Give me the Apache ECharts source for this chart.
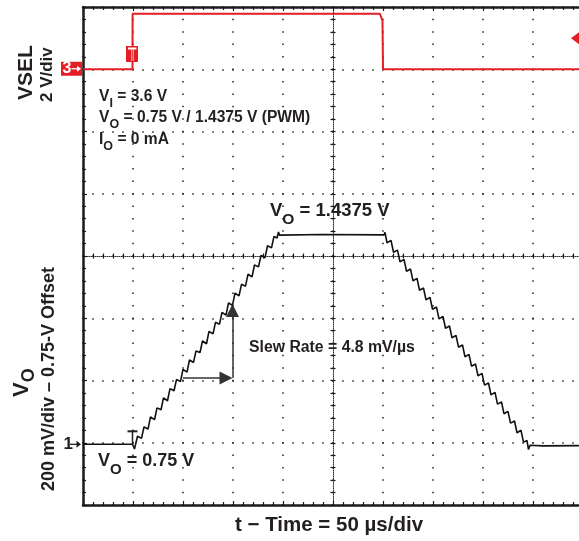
<!DOCTYPE html>
<html><head><meta charset="utf-8">
<script src="https://cdn.jsdelivr.net/npm/echarts@6/dist/echarts.min.js"></script>
<style>html,body{margin:0;padding:0;background:#fff}#c{width:579px;height:541px}</style>
</head><body><div id="c"></div>
<script>
// ---- data ----
const timeRangeUs = [0, 500];          // 10 div x 50 us/div
const timeDivUs = 50;
const divRange = [0, 8];               // 8 vertical divisions
const voRange = [0.55, 2.15];          // 200 mV/div, 0.75 V at 1 div
const vselRange = [-14, 2];            // 2 V/div, 0 V at 7 div
const vselTrace = [[0,0],[49.5,0],[49.6,1.78],[297,1.78],[298.5,1.74],[299.5,1.55],[300,0],[500,0]];
const voTrace = [
[0,0.745],[49.5,0.745],[50.5,0.744],[51.5,0.730],[52.5,0.733],[54.5,0.771],[58.5,0.764],[61,0.801],[65,0.794],[67.5,0.833],[71.5,0.824],[74,0.862],[78,0.856],[80.5,0.894],[84.5,0.885],[87,0.924],[91,0.917],[93.5,0.953],[97.5,0.947],[100,0.986],[104,0.977],[106.5,1.016],[110.5,1.008],[113,1.045],[117,1.040],[119.5,1.077],[123.5,1.068],[126,1.108],[130,1.100],[132.5,1.137],[136.5,1.131],[139,1.169],[143,1.160],[145.5,1.199],[149.5,1.192],[152,1.231],[156,1.222],[158.5,1.259],[162.5,1.253],[165,1.292],[169,1.283],[171.5,1.321],[175.5,1.315],[178,1.352],[182,1.344],[184.5,1.383],[188.5,1.376],[191,1.413],[194,1.408],[195.5,1.427],[196.5,1.417],[240,1.419],[301,1.418],
[302,1.426],[304,1.392],[308,1.400],[310.5,1.362],[314.5,1.369],[317,1.331],[321,1.339],[323.5,1.301],[327.5,1.308],[330,1.270],[334,1.278],[336.5,1.240],[340.5,1.247],[343,1.209],[347,1.217],[349.5,1.179],[353.5,1.186],[356,1.148],[360,1.156],[362.5,1.118],[366.5,1.125],[369,1.087],[373,1.095],[375.5,1.057],[379.5,1.064],[382,1.026],[386,1.034],[388.5,0.996],[392.5,1.003],[395,0.965],[399,0.973],[401.5,0.935],[405.5,0.942],[408,0.904],[412,0.912],[414.5,0.874],[418.5,0.881],[421,0.843],[425,0.851],[427.5,0.813],[431.5,0.820],[434,0.782],[438,0.790],[440.5,0.752],[444,0.757],[445.5,0.728],[447,0.742],[460,0.740],[500,0.741]
];
const slewArrowH = [[100,0.958],[143,0.958]];
const slewArrowV = [[149.5,0.958],[149.5,1.175]];
const triggerTimeUs = 49.5;
const vselTrigLevel = 1.0;

// ---- chart ----
const FF = '"Liberation Sans", Arial, Helvetica, sans-serif';
const INK = '#231f20';
const RED = '#e31e24';
const chart = echarts.init(document.getElementById('c'), null, {renderer:'canvas'});

const dotH = {color:'#222', width:1.5, type:[1.5,8.5], dashOffset:0.75};
const dotV = {color:'#222', width:1.5, type:[1.5,10.95], dashOffset:0.75};
const frameLine = {color:'#1a1a1a', width:2.5};
const tickStyle = {color:'#1a1a1a', width:1.2};

function xAx(pos, opts) {
  return Object.assign({type:'value', position:pos, min:timeRangeUs[0], max:timeRangeUs[1], interval:timeDivUs,
    axisLine:{show:true,onZero:false,lineStyle:frameLine},
    axisTick:{show:true,inside:true,length:4,lineStyle:tickStyle},
    minorTick:{show:true,splitNumber:5,length:3,lineStyle:tickStyle},
    axisLabel:{show:false}, splitLine:{show:false}, minorSplitLine:{show:false}}, opts);
}
function yAx(pos, opts) {
  return Object.assign({type:'value', position:pos, min:divRange[0], max:divRange[1], interval:1,
    axisLine:{show:true,onZero:false,lineStyle:frameLine},
    axisTick:{show:true,inside:true,length:4,lineStyle:tickStyle},
    minorTick:{show:true,splitNumber:5,length:3,lineStyle:tickStyle},
    axisLabel:{show:false}, splitLine:{show:false}, minorSplitLine:{show:false}}, opts);
}
const centerLine = {color:'#333', width:1, type:[1,1]};

const option = {
  animation:false,
  backgroundColor:'#fff',
  grid:{left:83, top:7, width:500, height:498, containLabel:false, outerBoundsMode:'none'},
  xAxis:[
    xAx('bottom', {splitLine:{show:true,lineStyle:dotV}}),
    xAx('top', {}),
    xAx('bottom', {offset:-249, axisLine:{show:true,onZero:false,lineStyle:centerLine}, axisTick:{show:true,inside:true,length:2.5,lineStyle:tickStyle}, minorTick:{show:true,splitNumber:5,length:2.5,lineStyle:tickStyle}}),
    xAx('bottom', {offset:-249, axisLine:{show:false}, axisTick:{show:true,inside:false,length:2.5,lineStyle:tickStyle}, minorTick:{show:true,splitNumber:5,length:2.5,lineStyle:tickStyle}})
  ],
  yAxis:[
    yAx('left', {splitLine:{show:true,lineStyle:dotH}}),
    yAx('left', {offset:-250, axisLine:{show:true,onZero:false,lineStyle:centerLine}, axisTick:{show:true,inside:true,length:2.5,lineStyle:tickStyle}, minorTick:{show:true,splitNumber:5,length:2.5,lineStyle:tickStyle}}),
    yAx('left', {offset:-250, axisLine:{show:false}, axisTick:{show:true,inside:false,length:2.5,lineStyle:tickStyle}, minorTick:{show:true,splitNumber:5,length:2.5,lineStyle:tickStyle}}),
    {type:'value', show:false, min:voRange[0], max:voRange[1]},
    {type:'value', show:false, min:vselRange[0], max:vselRange[1]}
  ],
  series:[
    {type:'line', name:'VSEL', xAxisIndex:0, yAxisIndex:4, data:vselTrace, symbol:'none', showSymbol:false,
     lineStyle:{color:RED, width:2}, z:4, silent:true},
    {type:'line', name:'VO', xAxisIndex:0, yAxisIndex:3, data:voTrace, symbol:'none', showSymbol:false,
     lineStyle:{color:'#111', width:1.6}, z:5, silent:true},
    {type:'line', name:'slew', xAxisIndex:0, yAxisIndex:3, data:[slewArrowH[0]], symbol:'none', showSymbol:false,
     lineStyle:{width:0, opacity:0}, z:6, silent:true,
     markLine:{silent:true, animation:false, symbol:['none','triangle'], symbolSize:13, label:{show:false},
       lineStyle:{color:'#333', width:1.5, type:'solid'}, emphasis:{disabled:true},
       data:[[{coord:slewArrowH[0]},{coord:slewArrowH[1]}],[{coord:slewArrowV[0], symbol:'none'},{coord:slewArrowV[1]}]]}}
  ]
};
chart.setOption(option);

function rt(parts, S, s, d) {
  const text = parts.map(p => '{' + (p[1] ? 's' : 'm') + '|' + p[0] + '}').join('');
  return {text, rich:{
    m:{fontSize:S,fontWeight:'bold',fontFamily:FF,lineHeight:S,padding:[0,0,d,0],verticalAlign:'bottom',fill:INK,color:INK},
    s:{fontSize:s,fontWeight:'bold',fontFamily:FF,lineHeight:s,padding:[S+d-s,0,0,0],verticalAlign:'bottom',fill:INK,color:INK}
  }};
}
// x,y: top-left of main-size text (rich block shifted by d as observed)
function rtEl(x, y, parts, S, s, d, rot) {
  const r = rt(parts, S, s, d);
  const px = rot ? x + d : x, py = rot ? y : y + d;
  return {type:'text', x:px, y:py, rotation:rot||0, z:100, silent:true,
    style:{text:r.text, rich:r.rich, fill:INK, font:'bold '+S+'px '+FF, align:'left', verticalAlign:'top', textAlign:'left', textVerticalAlign:'top'}};
}
function txEl(x, y, text, S, rot, fill) {
  return {type:'text', x, y, rotation:rot||0, z:100, silent:true,
    style:{text, fill:fill||INK, font:'bold '+S+'px '+FF, align:'left', verticalAlign:'top', textAlign:'left', textVerticalAlign:'top'}};
}
const R90 = Math.PI/2;
const pVsel0 = chart.convertToPixel({xAxisIndex:0, yAxisIndex:4}, [0, 0]);
const pTrigV = chart.convertToPixel({xAxisIndex:0, yAxisIndex:4}, [triggerTimeUs, 0.49]);
const pLvl = chart.convertToPixel({xAxisIndex:0, yAxisIndex:4}, [timeRangeUs[1], vselTrigLevel]);
const pVo0 = chart.convertToPixel({xAxisIndex:0, yAxisIndex:3}, [0, 0.745]);
const pTrigO = chart.convertToPixel({xAxisIndex:0, yAxisIndex:3}, [triggerTimeUs, 0.745]);

const g = [];
// "3->" VSEL ground marker
g.push({type:'rect', z:90, shape:{x:pVsel0[0]-22, y:pVsel0[1]-7.5, width:21, height:14}, style:{fill:RED}});
g.push(txEl(pVsel0[0]-20.5, pVsel0[1]-8.5, '3', 16, 0, '#fff'));
g.push({type:'line', z:100, shape:{x1:pVsel0[0]-11.5, y1:pVsel0[1]-0.5, x2:pVsel0[0]-4, y2:pVsel0[1]-0.5}, style:{stroke:'#fff', lineWidth:1.3}});
g.push({type:'polygon', z:100, shape:{points:[[pVsel0[0]-2,pVsel0[1]-0.5],[pVsel0[0]-6,pVsel0[1]-3.5],[pVsel0[0]-6,pVsel0[1]+2.5]]}, style:{fill:'#fff'}});
// trigger T box
g.push({type:'rect', z:90, shape:{x:pTrigV[0]-6.5, y:pTrigV[1]-8, width:12, height:16}, style:{fill:RED}});
g.push({type:'line', z:100, shape:{x1:pTrigV[0]-4.5, y1:pTrigV[1]-5.5, x2:pTrigV[0]+4, y2:pTrigV[1]-5.5}, style:{stroke:'#fff', lineWidth:2}});
g.push({type:'line', z:100, shape:{x1:pTrigV[0], y1:pTrigV[1]-5.5, x2:pTrigV[0], y2:pTrigV[1]+7}, style:{stroke:'#fff', lineWidth:2}});
g.push({type:'line', z:101, shape:{x1:pTrigV[0], y1:pTrigV[1]-4.5, x2:pTrigV[0], y2:pTrigV[1]+7}, style:{stroke:RED, lineWidth:0.8}});
// trigger level arrow at right
g.push({type:'polygon', z:90, shape:{points:[[pLvl[0]-12,pLvl[1]],[pLvl[0]-4,pLvl[1]-6],[pLvl[0]-4,pLvl[1]+6]]}, style:{fill:RED}});
g.push({type:'line', z:90, shape:{x1:pLvl[0]-6, y1:pLvl[1], x2:pLvl[0], y2:pLvl[1]}, style:{stroke:RED, lineWidth:2}});
// "1->" VO ground marker
g.push(txEl(pVo0[0]-19.5, pVo0[1]-8.5, '1', 17, 0, INK));
g.push({type:'line', z:100, shape:{x1:pVo0[0]-13, y1:pVo0[1], x2:pVo0[0]-5, y2:pVo0[1]}, style:{stroke:INK, lineWidth:1.3}});
g.push({type:'polygon', z:100, shape:{points:[[pVo0[0]-2,pVo0[1]],[pVo0[0]-6.5,pVo0[1]-3.5],[pVo0[0]-6.5,pVo0[1]+3.5]]}, style:{fill:INK}});
// VO trigger I-beam
g.push({type:'line', z:100, shape:{x1:pTrigO[0]-5, y1:pTrigO[1]-13, x2:pTrigO[0]+5, y2:pTrigO[1]-13}, style:{stroke:INK, lineWidth:2}});
g.push({type:'line', z:100, shape:{x1:pTrigO[0], y1:pTrigO[1]-13, x2:pTrigO[0], y2:pTrigO[1]}, style:{stroke:INK, lineWidth:1.5}});

// texts
g.push(txEl(15.5, 100, 'VSEL', 21, R90));
g.push(txEl(39.3, 102, '2 V/div', 17, R90));
g.push(rtEl(10.5, 397, [['V',0],['O',1]], 22, 18, 6, R90));
g.push(txEl(40.2, 491, '200 mV/div \u2013 0.75-V Offset', 18, R90));
g.push(rtEl(99, 89, [['V',0],['I',1],[' = 3.6 V',0]], 15.6, 12.5, 5));
g.push(rtEl(99, 110.5, [['V',0],['O',1],[' = 0.75 V / 1.4375 V (PWM)',0]], 15.6, 12.5, 5));
g.push(rtEl(99, 132.5, [['I',0],['O',1],[' = 0 mA',0]], 15.6, 12.5, 5));
g.push(rtEl(270, 202, [['V',0],['O',1],[' = 1.4375 V',0]], 18.5, 15.5, 7));
g.push(rtEl(98, 452.5, [['V',0],['O',1],[' = 0.75 V',0]], 18, 15, 6.5));
g.push(txEl(249, 340, 'Slew Rate = 4.8 mV/\u00b5s', 15.8));
g.push(txEl(235, 514.5, 't \u2212 Time = 50 \u00b5s/div', 20.5));

chart.setOption({graphic:{elements:g}});
</script>
</body></html>
